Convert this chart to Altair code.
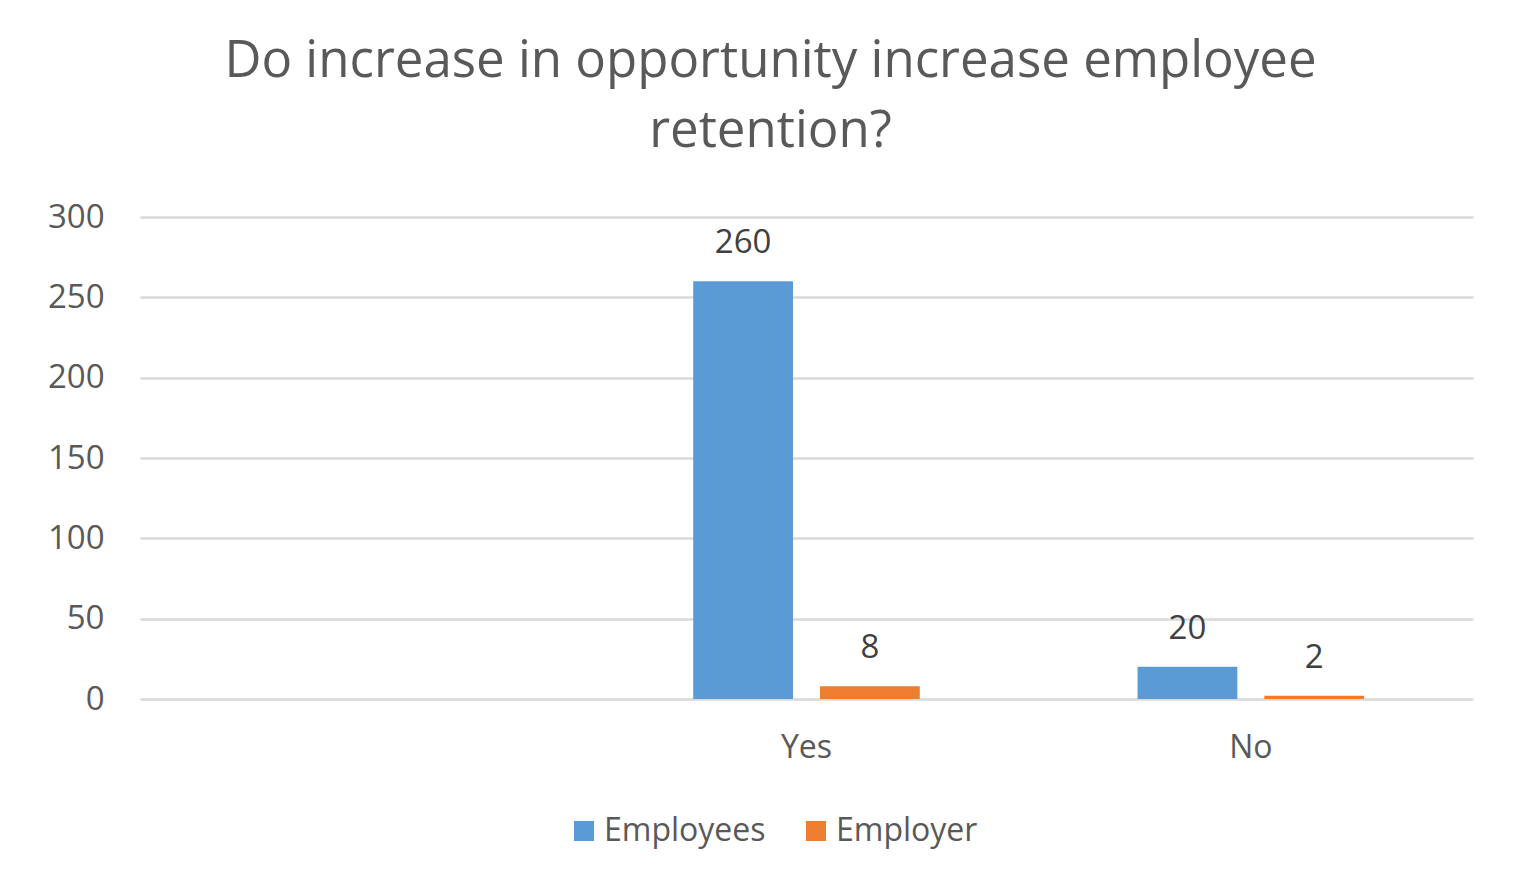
import altair as alt
import pandas as pd

categories = ["Yes", "No"]
employees = [260, 20]
employer = [8, 2]
series = ["Employees", "Employer"]
x_domain = ["(blank)", "Yes", "No"]
y_ticks = [0, 50, 100, 150, 200, 250, 300]

rows = []
for c, e1, e2 in zip(categories, employees, employer):
    rows.append({"cat": c, "series": "Employees", "value": e1})
    rows.append({"cat": c, "series": "Employer", "value": e2})
df = pd.DataFrame(rows)

FONT = "Open Sans"

x = alt.X("cat:N", scale=alt.Scale(domain=x_domain, paddingInner=0.49, paddingOuter=0.245),
          sort=x_domain,
          axis=alt.Axis(title=None, labelExpr="datum.value == '(blank)' ? '' : datum.value",
                        labelAngle=0, ticks=False, domain=False, grid=False,
                        labelFontSize=32, labelColor="#595959", labelFont=FONT,
                        labelPadding=33))
xo = alt.XOffset("series:N", scale=alt.Scale(domain=series, paddingInner=0.213, paddingOuter=0))
y = alt.Y("value:Q", scale=alt.Scale(domain=[0, 300]),
          axis=alt.Axis(title=None, values=y_ticks, ticks=False, domain=False,
                        gridColor="#D9D9D9", gridWidth=2.5, labelFontSize=33,
                        labelColor="#595959", labelFont=FONT, labelPadding=36))
color = alt.Color("series:N", scale=alt.Scale(domain=series, range=["#5B9BD5", "#ED7D31"]),
                  legend=alt.Legend(title=None, orient="none", direction="horizontal",
                                    legendX=428, legendY=598, labelLimit=400,
                                    symbolType="square", symbolSize=400, symbolStrokeWidth=0,
                                    labelFontSize=32, labelColor="#595959", labelFont=FONT,
                                    labelOffset=4, columnPadding=34))

bars = alt.Chart(df).mark_bar().encode(x=x, xOffset=xo, y=y, color=color)
labels = alt.Chart(df).mark_text(baseline="middle", dy=-38, fontSize=33, color="#404040",
                                 font=FONT).encode(x=x, xOffset=xo, y=y, text="value:Q")

chart = alt.layer(bars, labels).properties(
    width=1333, height=482,
    title=alt.TitleParams(["Do increase in opportunity increase employee", "retention?"],
                          fontSize=51, color="#595959", font=FONT, fontWeight="normal",
                          anchor="middle", dx=-36, offset=43, lineHeight=70),
    padding={"left": 132, "top": 209, "right": 58, "bottom": 180},
    autosize=alt.AutoSizeParams(type="none"),
).configure_view(stroke=None)

chart.save("out.html", embed_options={"renderer": "svg", "actions": False})
